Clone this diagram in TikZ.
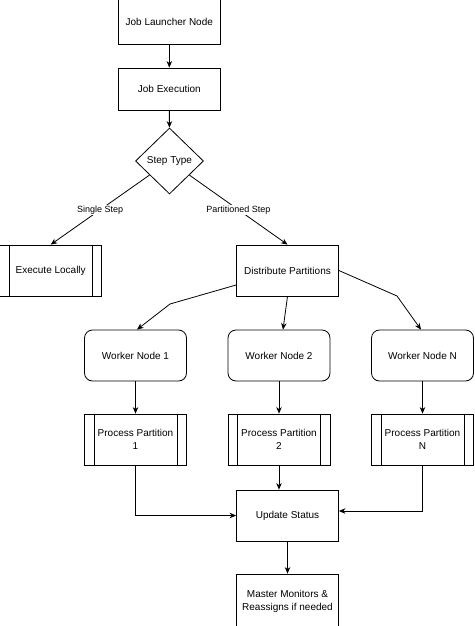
\documentclass[tikz,border=0pt]{standalone}
\usepackage{fontspec}
\setmainfont{Liberation Sans}
\usetikzlibrary{positioning,arrows.meta,shapes.geometric}

\begin{document}
\begin{tikzpicture}[x=1pt,y=-1pt,line width=0.8pt,
  every node/.style={font=\fontsize{10}{13}\selectfont},
  box/.style={draw,rectangle,minimum width=102pt,minimum height=51pt,inner sep=2pt,align=center},
  rbox/.style={box,rounded corners=8pt},
  decision/.style={draw,diamond,minimum width=68pt,minimum height=66pt,inner sep=0pt},
  lbl/.style={fill=white,inner sep=1pt,font=\fontsize{9}{11}\selectfont},
  arr/.style={-{Stealth[length=6.5pt,width=5.5pt,inset=2pt]}}]
\useasboundingbox (0,0) rectangle (474,626);

% top of the flow
\node[box,minimum height=46pt] (jl) at (169.3,21.5) {Job Launcher Node};
\node[box,minimum height=42pt] (je) at (169.3,89) {Job Execution};
\node[decision] (st) at (169.5,161) {Step Type};

% the two branches
\node[box] (el) at (50.7,270.5) {Execute Locally};
\node[box] (dp) at (287.5,270.5) {Distribute Partitions};

% workers
\node[rbox] (w1) at (135.5,355.5) {Worker Node 1};
\node[rbox] (w2) at (279,355.5) {Worker Node 2};
\node[rbox] (wN) at (422.5,355.5) {Worker Node N};

\node[box] (p1) at (135.5,439.5) {Process Partition\\1};
\node[box] (p2) at (279,439.5) {Process Partition\\2};
\node[box] (pN) at (422.5,439.5) {Process Partition\\N};

% status and monitoring
\node[box] (us) at (287.5,515.5) {Update Status};
\node[box,minimum height=54pt] (ma) at (287.5,601) {Master Monitors \&\\Reassigns if needed};

% inner bars of the subprocess boxes
\foreach \n in {el,p1,p2,pN}
  \draw ([xshift=10pt]\n.north west) -- ([xshift=10pt]\n.south west)
        ([xshift=-10pt]\n.north east) -- ([xshift=-10pt]\n.south east);

\coordinate (b1) at (170,304);
\coordinate (bN) at (397,296);

\draw[arr] (jl) -- (je);
\draw[arr] (je) -- (st);
\draw[arr] (st) -- node[lbl] {Single Step} (el.north);
\draw[arr] (st) -- node[lbl] {Partitioned Step} (dp.north);
\draw[arr] ([yshift=-14.5pt]dp.west) -- (b1) -- ([xshift=1.5pt]w1.north);
\draw[arr] (dp.south) -- ([xshift=4pt]w2.north);
\draw[arr] (dp.east) -- (bN) -- ([xshift=-1.5pt]wN.north);
\draw[arr] (w1) -- (p1);
\draw[arr] (w2) -- (p2);
\draw[arr] (wN) -- (pN);
\draw[arr] (p1.south) |- (us.west);
\draw[arr] (p2.south) -- (p2.south |- us.north);
\draw[arr] (pN.south) |- ([yshift=4.5pt]us.east);
\draw[arr] (us) -- (ma);
\end{tikzpicture}
\end{document}
